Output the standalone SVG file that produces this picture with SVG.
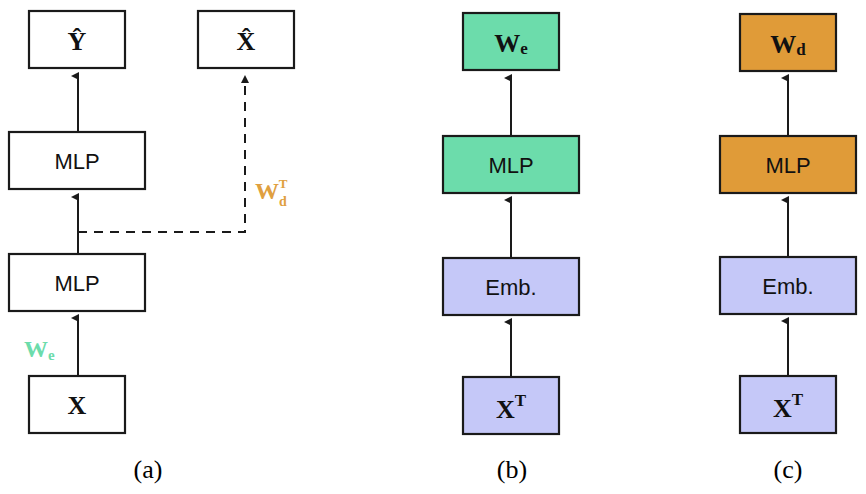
<svg xmlns="http://www.w3.org/2000/svg" width="866" height="494" viewBox="0 0 866 494">
<style>
.b{stroke:#1a1a1a;stroke-width:2.2}
.w{fill:#fff}.g{fill:#6cdcab}.o{fill:#e09b38}.p{fill:#c5c8f8}
.s{font-family:"Liberation Sans",sans-serif;font-size:22px;text-anchor:middle;fill:#111}
.m{font-family:"Liberation Serif",serif;font-weight:bold;font-size:26px;text-anchor:middle;fill:#111}
.c{font-family:"Liberation Serif",serif;font-size:26px;text-anchor:middle;fill:#000}
.e{stroke:#1a1a1a;stroke-width:2;fill:none}
</style>
<defs><marker id="a" markerWidth="8" markerHeight="8" refX="4" refY="7" orient="auto" markerUnits="userSpaceOnUse"><path d="M0,8 L4,0 L8,8z" fill="#1a1a1a"/></marker></defs>
<g id="connectors">
<line class="e" x1="78" y1="132" x2="78" y2="76" marker-end="url(#a)"/>
<line class="e" x1="78" y1="254" x2="78" y2="197" marker-end="url(#a)"/>
<line class="e" x1="78" y1="376" x2="78" y2="318" marker-end="url(#a)"/>
<path class="e" d="M78,232 H245 V82" stroke-dasharray="9,7"/>
<path d="M241,83 L245,75 L249,83z" fill="#1a1a1a"/>
<line class="e" x1="511" y1="136" x2="511" y2="78" marker-end="url(#a)"/>
<line class="e" x1="511" y1="258" x2="511" y2="200" marker-end="url(#a)"/>
<line class="e" x1="511" y1="377" x2="511" y2="322" marker-end="url(#a)"/>
<line class="e" x1="788" y1="136" x2="788" y2="78" marker-end="url(#a)"/>
<line class="e" x1="788" y1="257" x2="788" y2="200" marker-end="url(#a)"/>
<line class="e" x1="788" y1="376" x2="788" y2="321" marker-end="url(#a)"/>
</g>
<g id="a-yhat"><rect class="b w" x="29" y="11" width="96" height="57"/><text class="m" x="77" y="50">Ŷ</text></g>
<g id="a-xhat"><rect class="b w" x="198" y="11" width="96" height="57"/><text class="m" x="246" y="50">X̂</text></g>
<g id="a-mlp2"><rect class="b w" x="9" y="132" width="136" height="57"/><text class="s" x="77" y="169">MLP</text></g>
<g id="a-mlp1"><rect class="b w" x="9" y="254" width="136" height="57"/><text class="s" x="77" y="291">MLP</text></g>
<g id="a-x"><rect class="b w" x="29" y="376" width="96" height="57"/><text class="m" x="77" y="414">X</text></g>
<text x="24" y="357" font-family="Liberation Serif,serif" font-weight="bold" font-size="24" fill="#6cdcab">W<tspan font-size="15" dy="3">e</tspan></text>
<text x="255" y="199" font-family="Liberation Serif,serif" font-weight="bold" font-size="24" fill="#e0a040">W<tspan font-size="14" dy="7">d</tspan><tspan font-size="13" dx="-8" dy="-18">T</tspan></text>
<g id="b-we"><rect class="b g" x="463" y="13" width="96" height="57"/><text class="m" x="511" y="52">W<tspan font-size="17" dy="2">e</tspan></text></g>
<g id="b-mlp"><rect class="b g" x="443" y="136" width="136" height="57"/><text class="s" x="511" y="173">MLP</text></g>
<g id="b-emb"><rect class="b p" x="443" y="258" width="136" height="57"/><text class="s" x="511" y="295">Emb.</text></g>
<g id="b-xt"><rect class="b p" x="463" y="377" width="96" height="57"/><text class="m" x="511" y="418">X<tspan font-size="17" dy="-12">T</tspan></text></g>
<g id="c-wd"><rect class="b o" x="740" y="14" width="96" height="57"/><text class="m" x="788" y="53">W<tspan font-size="17" dy="2">d</tspan></text></g>
<g id="c-mlp"><rect class="b o" x="720" y="136" width="136" height="57"/><text class="s" x="788" y="173">MLP</text></g>
<g id="c-emb"><rect class="b p" x="720" y="257" width="136" height="57"/><text class="s" x="788" y="294">Emb.</text></g>
<g id="c-xt"><rect class="b p" x="740" y="376" width="96" height="57"/><text class="m" x="788" y="417">X<tspan font-size="17" dy="-12">T</tspan></text></g>
<text class="c" x="148" y="478">(a)</text>
<text class="c" x="512" y="478">(b)</text>
<text class="c" x="788" y="478">(c)</text>
</svg>
